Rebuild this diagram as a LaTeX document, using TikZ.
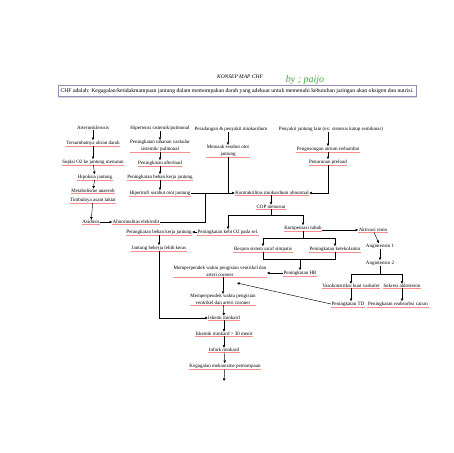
\documentclass[tikz,border=0pt]{standalone}
\usepackage{fontspec}
\setmainfont{Liberation Serif}
\usepackage{xcolor}
\usetikzlibrary{arrows.meta, positioning, shadows}

\definecolor{hijau}{RGB}{70,170,70}
\definecolor{ungu}{RGB}{150,140,175}

\begin{document}
\begin{tikzpicture}[
  x=1pt, y=-1pt,
  teks/.style={inner sep=0.4pt, align=center, font=\fontsize{5}{6.5}\selectfont},
  salah/.style={teks, append after command={(\tikzlastnode.south west)
                edge[draw=red!45, line width=0.25pt] (\tikzlastnode.south east)}},
  panah/.style={-{Triangle[length=2.6pt, width=2.4pt]}, line width=0.45pt},
  garis/.style={line width=0.45pt}
]
\useasboundingbox[fill=white] (0,0) rectangle (453,453);

% judul
\node[font=\fontsize{5.5}{6}\selectfont\itshape] (judul) at (240,77) {KONSEP MAP CHF};
\node[font=\fontsize{10}{11}\selectfont\itshape, text=hijau] (nama) at (305,80) {by ; paijo};
\node[draw=ungu, fill=white, minimum width=358pt, minimum height=11pt, inner sep=0.5pt,
      font=\fontsize{5.7}{6}\selectfont,
      drop shadow={shadow xshift=1.2pt, shadow yshift=-1.2pt, fill=ungu!70}] (definisi) at (237,91)
  {CHF adalah: Kegagalan/ketidakmampuan jantung dalam memompakan darah yang adekuat untuk memenuhi kebutuhan jaringan akan oksigen dan nutrisi.};

% kolom kiri
\node[teks] (a1) at (93,128) {Arteriosklerosis};
\node[salah] (a2) at (93,143) {Tersumbatnya aliran darah};
\node[salah] (a3) at (93,162) {Suplai O2 ke jantung menurun};
\node[salah] (a4) at (95,177) {Hipoksia jantung};
\node[salah] (a5) at (93,191) {Metabolisme anaerob};
\node[salah] (a6) at (93,200) {Timbulnya asam laktat};
\node[salah] (a7) at (91,222) {Asidosis};
\node[salah] (e1) at (136,222) {Abnormalitas elektrolit};

\node[teks] (b1) at (160,128) {Hipertensi sistemik/pulmonal};
\node[salah] (b2) at (160,146) {Peningkatan tahanan vaskular\\sistemik/ pulmonal};
\node[salah] (b3) at (160,163) {Peningkatan afterload};
\node[salah] (b4) at (160,177) {Peningkatan beban kerja jantung};
\node[salah] (b5) at (160,193) {Hipertrofi serabut otot jantung};

\node[teks] (c1) at (231,129) {Peradangan \& penyakit miokardium};
\node[salah] (c2) at (228,151) {Merusak serabut otot\\jantung};

\node[teks] (d1) at (331,129) {Penyakit jantung lain (ex: stenosis katup semilunar)};
\node[salah] (d2) at (328,149) {Pengosongan atrium terhambat};
\node[salah] (d3) at (328,162) {Penurunan preload};

% tengah
\node[salah] (k) at (272,193) {Kontraktilitas miokardium abnormal};
\node[salah] (cop) at (271,207) {COP menurun};
\coordinate (simpul) at (205,193);

\node[salah] (o2) at (228,232) {Peningkatan kebt O2 pada sel.};
\node[salah] (h) at (159,232) {Peningkatan beban kerja jantung};
\node[salah] (j) at (159,248) {Jantung bekerja lebih keras};

\node[salah] (kt) at (303,228) {Kompensasi tubuh};
\node[salah] (rs) at (263,249) {Respon sistem saraf simpatis};
\node[salah] (pk) at (335,249) {Peningkatan ketekolamin};
\node[salah] (hr) at (300,273) {Peningkatan HR};

\node[salah] (ar) at (373,230) {Aktivasi renin};
\node[teks] (an1) at (380,246) {Angiotensin 1};
\node[teks] (an2) at (380,263) {Angiotensin 2};
\node[salah] (vk) at (351,286) {Vasokonstriksi kuat vaskuler};
\node[salah] (sa) at (402,286) {Sekresi aldosteron};
\node[salah] (td) at (348,304) {Peningkatan TD};
\node[salah] (rc) at (398,304) {Peningkatan reabsorbsi cairan};

% bawah
\node[salah] (m1) at (220,271.5) {Memperpendek waktu pengisian ventrikel dan\\arteri coroner};
\node[salah] (m2) at (223,299.5) {Memperpendek waktu pengisian\\ventrikel dan arteri coroner};
\node[salah] (i1) at (224,318) {Iskemi miokard};
\node[salah] (i2) at (224,334) {Iskemik miokard > 30 menit};
\node[salah] (i3) at (224,350) {Infark miokard};
\node[salah] (i4) at (225,366) {Kegagalan mekanisme pemompaan};
\coordinate (akhir) at (224,381);
\coordinate (ujung) at (237,283);

% panah
\draw[panah] (a1) -- (a2);
\draw[panah] (a2) -- (a3);
\draw[panah] (a3) -- (a4);
\draw[panah] (a4) -- (a5);
\draw[panah] (a6) -- (a7);
\draw[panah] (a7) -- (e1);
\draw[panah] (b1) -- (b2);
\draw[panah] (b2) -- (b3);
\draw[panah] (b3) -- (b4);
\draw[panah] (b4) -- (b5);
\draw[panah] (c1.south -| c2) -- (c2);
\draw[panah] (d1.south -| d2) -- (d2);
\draw[panah] (d2) -- (d3);

\draw[panah] (b5.east) -- (k.west);
\draw[garis] (c2.south) -- (c2.south |- k.west);
\draw[garis] (e1.east) -| (simpul);
\draw[panah] (d3.south) |- (k.east);
\draw[panah] (k.south -| cop) -- (cop);
\draw[panah] (cop.south) -- ++(0,6) -| (o2.north);
\draw[panah] (cop.south) -- ++(0,6) -| (kt.north);
\draw[panah] (o2.west) -- (h.east);
\draw[panah] (h) -- (j);
\draw[panah] (j.south) |- (i1.west);

\draw[panah] (kt.east |- ar) -- (ar.west);
\draw[panah] (ar) -- (an1);
\draw[panah] (an1) -- (an2);
\draw[panah] (an2.south) -- ++(0,8) -| (vk.north);
\draw[panah] (an2.south) -- ++(0,8) -| (sa.north);
\draw[panah] (vk.south) -- (vk.south |- td.north);
\draw[panah] (sa.south) -- (sa.south |- rc.north);
\draw[panah] (td.west) -- (ujung);

\draw[panah] (kt.south) -- ++(0,7) -| (rs.north);
\draw[panah] (kt.south) -- ++(0,7) -| (pk.north);
\draw[garis] (rs.south) -- ++(0,7) coordinate (rb) -| (pk.south);
\draw[panah] (rb -| hr) -- (hr.north);
\draw[panah] (hr.west) -- (m1.east |- hr.west);

\draw[panah] (m1.south -| m2) -- (m2);
\draw[panah] (m2) -- (i1);
\draw[panah] (i1) -- (i2);
\draw[panah] (i2) -- (i3);
\draw[panah] (i3) -- (i4);
\draw[panah] (i4) -- (akhir);
\end{tikzpicture}
\end{document}
